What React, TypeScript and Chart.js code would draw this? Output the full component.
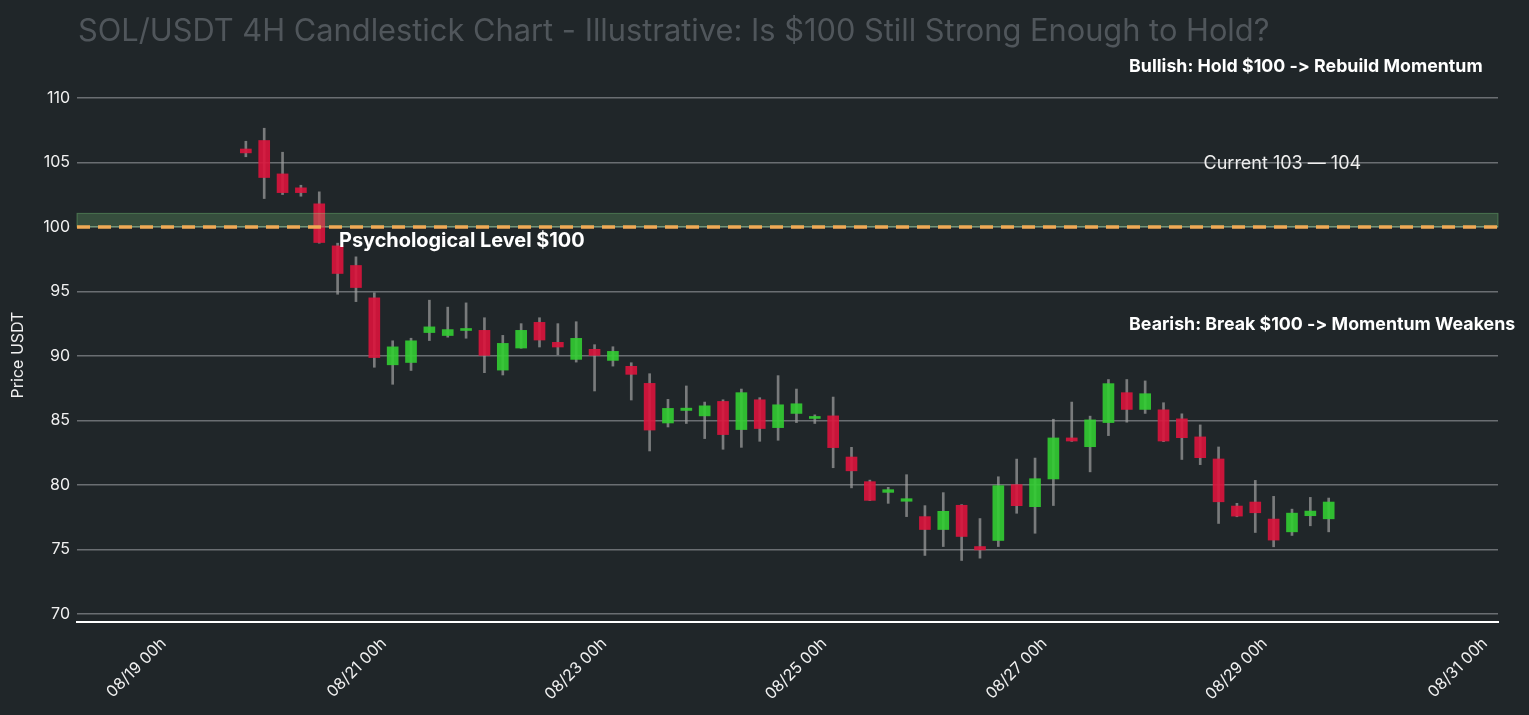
import { useEffect, useRef } from 'react';
import { Chart, registerables } from 'chart.js';

Chart.register(...registerables);

// 4H candles, "MM/DD HH"
const times = [
  '08/19 16', '08/19 20',
  '08/20 00', '08/20 04', '08/20 08', '08/20 12', '08/20 16', '08/20 20',
  '08/21 00', '08/21 04', '08/21 08', '08/21 12', '08/21 16', '08/21 20',
  '08/22 00', '08/22 04', '08/22 08', '08/22 12', '08/22 16', '08/22 20',
  '08/23 00', '08/23 04', '08/23 08', '08/23 12', '08/23 16', '08/23 20',
  '08/24 00', '08/24 04', '08/24 08', '08/24 12', '08/24 16', '08/24 20',
  '08/25 00', '08/25 04', '08/25 08', '08/25 12', '08/25 16', '08/25 20',
  '08/26 00', '08/26 04', '08/26 08', '08/26 12', '08/26 16', '08/26 20',
  '08/27 00', '08/27 04', '08/27 08', '08/27 12', '08/27 16', '08/27 20',
  '08/28 00', '08/28 04', '08/28 08', '08/28 12', '08/28 16', '08/28 20',
  '08/29 00', '08/29 04', '08/29 08', '08/29 12',
];

const opens = [
  106.05, 106.71, 104.12, 103.04, 101.8, 98.54, 97.02, 94.51, 89.32, 89.5,
  91.82, 91.59, 91.98, 91.99, 88.91, 90.62, 92.61, 91.06, 89.74, 90.52,
  89.66, 89.2, 87.88, 84.81, 85.78, 85.36, 86.48, 84.3, 86.61, 84.45,
  85.55, 85.16, 85.36, 82.17, 80.26, 79.43, 78.74, 77.55, 76.55, 78.43,
  75.23, 75.7, 80.03, 78.32, 80.47, 83.65, 82.97, 84.84, 87.16, 85.86,
  85.83, 85.13, 83.73, 82.02, 78.37, 78.68, 77.36, 76.37, 77.62, 77.38,
];
const highs = [
  106.65, 107.66, 105.8, 103.24, 102.73, 98.75, 97.69, 94.9, 91.18, 91.38,
  94.33, 93.79, 94.12, 92.97, 91.6, 92.51, 92.97, 92.51, 92.66, 90.88,
  90.72, 89.48, 88.63, 86.64, 87.68, 86.43, 86.61, 87.44, 86.77, 88.48,
  87.44, 85.44, 86.82, 82.92, 80.38, 79.82, 80.8, 78.4, 79.41, 78.48,
  77.4, 80.64, 82.01, 82.09, 85.1, 86.43, 85.34, 88.18, 88.18, 88.07,
  86.38, 85.52, 84.66, 82.95, 78.58, 80.36, 79.12, 78.13, 79.04, 78.99,
];
const lows = [
  105.45, 102.21, 102.52, 102.39, 98.75, 94.79, 94.22, 89.13, 87.81, 88.88,
  91.2, 91.46, 91.38, 88.71, 88.53, 90.6, 90.7, 90.1, 89.53, 87.29,
  89.22, 86.59, 82.64, 84.5, 84.77, 83.6, 82.77, 82.92, 83.39, 83.47,
  84.84, 84.77, 81.34, 79.78, 78.79, 78.58, 77.55, 74.54, 75.23, 74.15,
  74.33, 75.23, 77.81, 76.26, 78.41, 83.38, 81.02, 83.83, 84.87, 85.55,
  83.36, 81.98, 81.58, 77.02, 77.54, 76.32, 75.21, 76.09, 76.84, 76.37,
];
const closes = [
  105.75, 103.84, 102.67, 102.67, 98.8, 96.4, 95.31, 89.88, 90.71, 91.18,
  92.26, 92.05, 92.08, 90.05, 90.98, 91.99, 91.24, 90.7, 91.37, 90.05,
  90.36, 88.58, 84.26, 85.94, 85.96, 86.14, 83.91, 87.16, 84.38, 86.22,
  86.3, 85.29, 82.9, 81.1, 78.81, 79.64, 78.94, 76.55, 77.96, 76.01,
  74.97, 79.95, 78.4, 80.49, 83.65, 83.41, 85.05, 87.86, 85.86, 87.08,
  83.41, 83.67, 82.12, 78.7, 77.59, 77.85, 75.73, 77.82, 77.98, 78.68,
];

const yTicks = [70, 75, 80, 85, 90, 95, 100, 105, 110];
const xTickDays = ['08/19', '08/21', '08/23', '08/25', '08/27', '08/29', '08/31'];

const supportLevel = 100;
const zoneTop = 101.06;

const BG = '#202629';
const FONT = 'Inter, "Noto Sans", sans-serif';
// ZWNJ keeps Inter from turning "->" into an arrow glyph
const ARROW = '-\u200C>';

// hours since 08/19 00h
const toHours = (s: string) => (parseInt(s.slice(3, 5), 10) - 19) * 24 + parseInt(s.slice(6), 10);

const overlay = {
  id: 'overlay',
  beforeDraw(chart: any) {
    const { ctx } = chart;
    ctx.save();
    ctx.fillStyle = BG;
    ctx.fillRect(0, 0, chart.width, chart.height);
    ctx.restore();
  },
  afterDraw(chart: any) {
    const { ctx, chartArea } = chart;
    const x = chart.scales.x;
    const y = chart.scales.y;
    ctx.save();

    // support zone
    const zt = y.getPixelForValue(zoneTop);
    const zb = y.getPixelForValue(supportLevel);
    ctx.fillStyle = 'rgba(144,238,144,0.2)';
    ctx.fillRect(chartArea.left, zt, chartArea.right - chartArea.left, zb - zt);
    ctx.strokeStyle = 'rgba(144,238,144,0.3)';
    ctx.lineWidth = 1;
    ctx.strokeRect(chartArea.left, zt, chartArea.right - chartArea.left, zb - zt);

    // $100 line
    ctx.strokeStyle = '#f0aa55';
    ctx.lineWidth = 3.5;
    ctx.setLineDash([13, 8]);
    ctx.beginPath();
    ctx.moveTo(chartArea.left, zb);
    ctx.lineTo(chartArea.right, zb);
    ctx.stroke();
    ctx.setLineDash([]);

    // title
    ctx.fillStyle = '#50565b';
    ctx.font = `30.8px ${FONT}`;
    ctx.textAlign = 'left';
    ctx.textBaseline = 'middle';
    ctx.fillText('SOL/USDT 4H Candlestick Chart - Illustrative: Is $100 Still Strong Enough to Hold?', 78, 32);

    // notes
    ctx.fillStyle = '#ffffff';
    ctx.font = `bold 19.9px ${FONT}`;
    ctx.fillText('Psychological Level $100', x.getPixelForValue(36.3), y.getPixelForValue(98.9));
    ctx.font = `bold 17.8px ${FONT}`;
    ctx.fillText(`Bullish: Hold $100 ${ARROW} Rebuild Momentum`, x.getPixelForValue(208.5), y.getPixelForValue(112.4));
    ctx.fillText(`Bearish: Break $100 ${ARROW} Momentum Weakens`, x.getPixelForValue(208.5), y.getPixelForValue(92.4));
    ctx.fillStyle = '#eeeeee';
    ctx.font = `18px ${FONT}`;
    ctx.textAlign = 'center';
    ctx.fillText('Current 103 \u2014 104', x.getPixelForValue(241.9), y.getPixelForValue(104.9));
    ctx.restore();
  },
};

const CandleChart = () => {
  const chartRef = useRef<HTMLCanvasElement | null>(null);

  useEffect(() => {
    const ctx = chartRef.current!.getContext('2d');
    const hours = times.map(toHours);
    const up = opens.map((o, i) => closes[i] >= o);

    const chart = new Chart(ctx!, {
      type: 'bar',
      data: {
        datasets: [
          {
            label: 'body',
            data: hours.map((h, i) => ({ x: h, y: [opens[i], closes[i]] })) as any,
            backgroundColor: up.map((u) => (u ? 'rgba(50,205,50,0.9)' : 'rgba(220,20,60,0.9)')),
            borderWidth: 0,
            barThickness: 11,
            minBarLength: 2,
            grouped: false,
          },
          {
            label: 'wick',
            data: hours.map((h, i) => ({ x: h, y: [lows[i], highs[i]] })) as any,
            backgroundColor: 'rgba(160,160,160,0.7)',
            borderWidth: 0,
            barThickness: 2,
            grouped: false,
          },
        ],
      },
      options: {
        animation: false,
        responsive: false,
        layout: { padding: { left: 0, right: 31, top: 88, bottom: 0 } },
        plugins: {
          legend: { display: false },
          tooltip: { enabled: false },
        },
        scales: {
          x: {
            type: 'linear',
            min: -20.8,
            max: 288.9,
            offset: false,
            grid: { display: false },
            border: { display: true, color: '#ffffff', width: 2 },
            afterBuildTicks: (s: any) => {
              s.ticks = xTickDays.map((d) => ({ value: toHours(d + ' 00') }));
            },
            afterFit: (s: any) => {
              s.height = 93;
            },
            ticks: {
              autoSkip: false,
              maxRotation: 45,
              minRotation: 45,
              color: '#f0f0f0',
              font: { family: FONT, size: 16 },
              padding: 4,
              labelOffset: -9,
              callback: (v: any) => {
                const h = Number(v);
                const day = 19 + Math.floor(h / 24);
                return `08/${day} 00h`;
              },
            },
          },
          y: {
            type: 'linear',
            min: 69.38,
            max: 110.78,
            grid: { color: '#6a6e72', lineWidth: 1.5, drawTicks: false },
            border: { display: false },
            afterBuildTicks: (s: any) => {
              s.ticks = yTicks.map((v) => ({ value: v }));
            },
            afterFit: (s: any) => {
              s.width = 77;
            },
            ticks: {
              color: '#f0f0f0',
              font: { family: FONT, size: 16 },
              padding: 7,
            },
            title: {
              display: true,
              text: 'Price USDT',
              color: '#f0f0f0',
              font: { family: FONT, size: 16 },
              padding: { top: 9, bottom: 0 },
            },
          },
        },
      },
      plugins: [overlay],
    });
    return () => {
      chart.destroy();
    };
  }, []);

  return (
    <div style={{ position: 'fixed', left: 0, top: 0, width: 1529, height: 715 }}>
      <canvas ref={chartRef} width={1529} height={715} />
    </div>
  );
};

export default function App() {
  return <CandleChart />;
}
